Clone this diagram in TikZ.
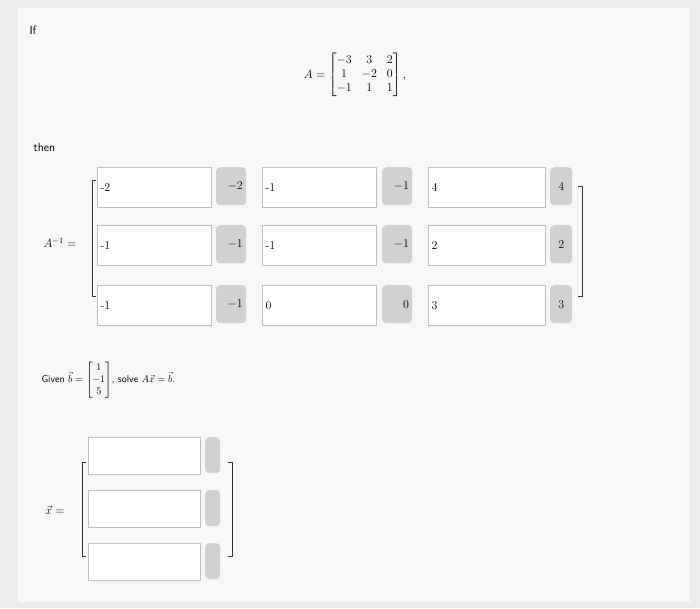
\documentclass[tikz,border=0pt]{standalone}
\usepackage{amsmath}
\begin{document}
\begin{tikzpicture}[x=1pt,y=-1pt,font=\large,
  inbox/.style={draw=black!25,fill=white,minimum width=114pt,minimum height=40pt,anchor=north west,inner sep=0pt},
  badge/.style={fill=black!18,rounded corners=4pt,minimum width=30pt,minimum height=38pt,anchor=north west,inner sep=0pt},
  sbadge/.style={fill=black!18,rounded corners=4pt,minimum width=15pt,minimum height=36pt,anchor=north west,inner sep=0pt},
  brk/.style={line width=1pt,black!80},
  txt/.style={font=\sffamily\large,anchor=west}]
\fill[black!8] (0,0) rectangle (700,608);
\fill[black!3] (18,8) rectangle (690,602);
\useasboundingbox (0,0) rectangle (700,608);
\node[txt] (if) at (26,30) {If};
\node (A) at (355,75) {$A=\begin{bmatrix}-3&3&2\\1&-2&0\\-1&1&1\end{bmatrix},$};
\node[txt] (then) at (30,147) {then};
\node (Ainv) at (60,243) {$A^{-1}=$};
\foreach \r/\y/\a/\b/\c in {1/167/-2/-1/4, 2/225/-1/-1/2, 3/285/-1/0/3}{
  \node[inbox] (b\r1) at (97,\y) {};
  \node[anchor=west] at (b\r1.west) {\a};
  \node[badge] (g\r1) at (216,\y) {};
  \node[anchor=east] at (g\r1.east) {$\a$};
  \node[inbox] (b\r2) at (262,\y) {};
  \node[anchor=west] at (b\r2.west) {\b};
  \node[badge] (g\r2) at (382,\y) {};
  \node[anchor=east] at (g\r2.east) {$\b$};
  \node[inbox,minimum width=117pt] (b\r3) at (428,\y) {};
  \node[anchor=west] at (b\r3.west) {\c};
  \node[badge,minimum width=22pt] (g\r3) at (550,\y) {};
  \node at (g\r3.center) {$\c$};
}
\draw[brk] (96,180) -- (92,180) -- (92,296) -- (96,296);
\draw[brk] (578,186) -- (582,186) -- (582,296) -- (578,296);
\node[txt,font=\sffamily] (given) at (38,380) {Given $\vec b=\begin{bmatrix}1\\-1\\5\end{bmatrix}$, solve $A\vec x=\vec b$.};
\node (xeq) at (55,510) {$\vec x=$};
\foreach \r/\y in {1/437,2/490,3/543}{
  \node[inbox,minimum width=112pt,minimum height=37pt] (x\r) at (88,\y) {};
  \node[sbadge] (xg\r) at (205,\y) {};
}
\draw[brk] (86,462) -- (82,462) -- (82,556) -- (86,556);
\draw[brk] (228,462) -- (232,462) -- (232,556) -- (228,556);
\end{tikzpicture}
\end{document}
